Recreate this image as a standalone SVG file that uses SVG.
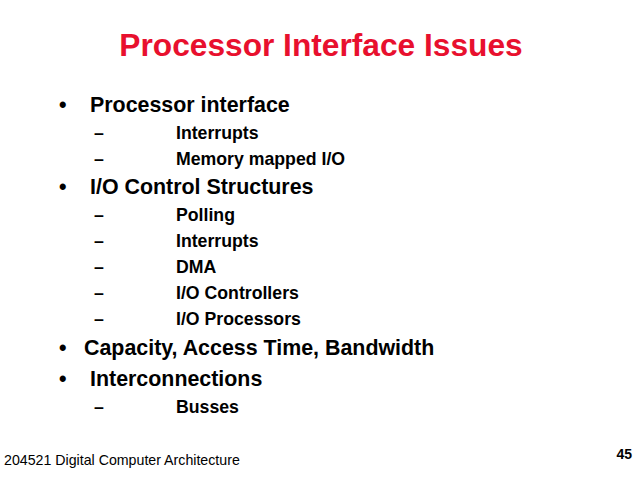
<svg xmlns="http://www.w3.org/2000/svg" width="638" height="478" viewBox="0 0 638 478">
<style>
text{font-family:"Liberation Sans",Arial,sans-serif;font-weight:bold;fill:#000}
.t{fill:#e8102e;font-size:31.7px}
.b{font-size:21.4px}
.s{font-size:17.7px}
.f{font-size:14.2px;font-weight:normal}
</style>
<rect width="638" height="478" fill="#fff"/>
<text class="t" x="321" y="56" text-anchor="middle">Processor Interface Issues</text>
<text class="b" x="59" y="112">•</text><text class="b" x="90" y="112">Processor interface</text>
<text class="s" x="94" y="139">–</text><text class="s" x="176" y="139">Interrupts</text>
<text class="s" x="94" y="165">–</text><text class="s" x="176" y="165">Memory mapped I/O</text>
<text class="b" x="59" y="194">•</text><text class="b" x="90" y="194">I/O Control Structures</text>
<text class="s" x="94" y="221">–</text><text class="s" x="176" y="221">Polling</text>
<text class="s" x="94" y="247">–</text><text class="s" x="176" y="247">Interrupts</text>
<text class="s" x="94" y="273">–</text><text class="s" x="176" y="273">DMA</text>
<text class="s" x="94" y="299">–</text><text class="s" x="176" y="299">I/O Controllers</text>
<text class="s" x="94" y="325">–</text><text class="s" x="176" y="325">I/O Processors</text>
<text class="b" x="59" y="355">•</text><text class="b" x="84" y="355">Capacity, Access Time, Bandwidth</text>
<text class="b" x="59" y="386">•</text><text class="b" x="90" y="386">Interconnections</text>
<text class="s" x="94" y="413">–</text><text class="s" x="176" y="413">Busses</text>
<text class="f" x="4" y="465">204521 Digital Computer Architecture</text>
<text x="632" y="459" text-anchor="end" style="font-size:14px">45</text>
</svg>
